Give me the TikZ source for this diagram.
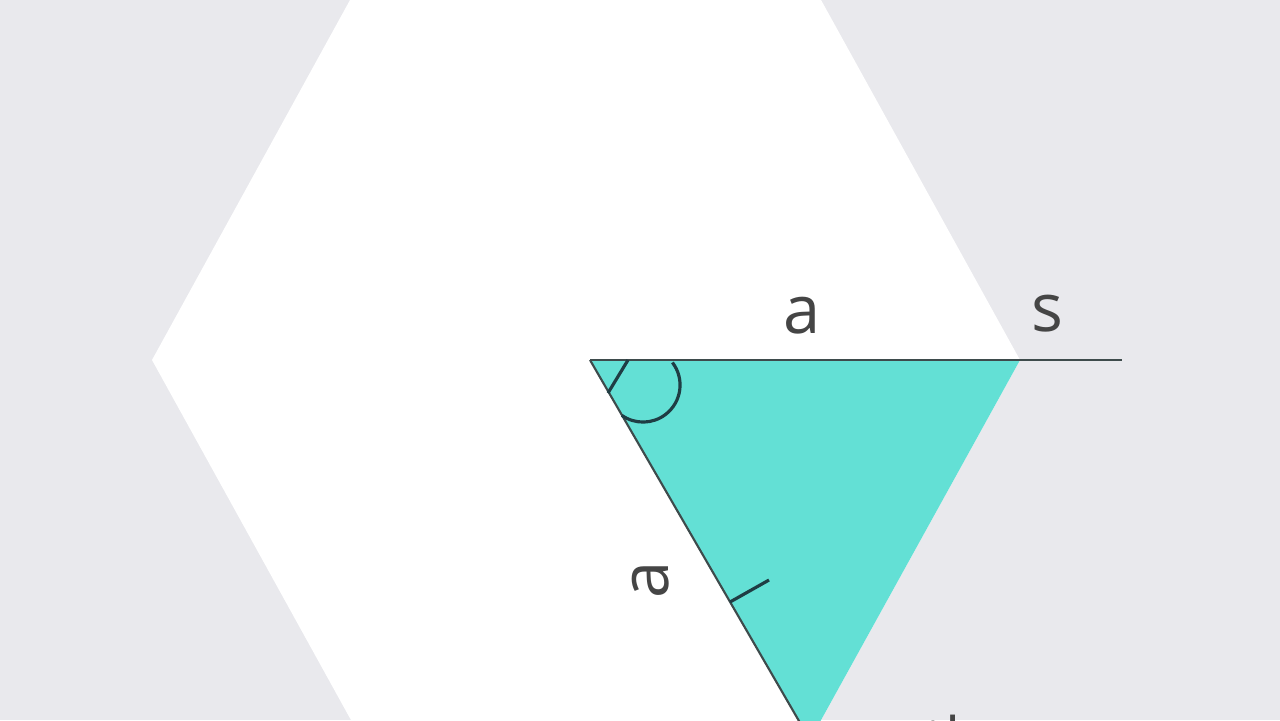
\documentclass[tikz,border=0pt]{standalone}
\usepackage{fontspec}
\setmainfont{Open Sans}
\definecolor{bggray}{HTML}{E9E9ED}
\definecolor{tealfill}{HTML}{63E0D5}
\definecolor{linegray}{HTML}{3E4B4C}
\definecolor{arcdark}{HTML}{1F3D44}
\definecolor{txtgray}{HTML}{454545}
\begin{document}
\begin{tikzpicture}[x=0.01cm,y=0.01cm,
  edge/.style={draw=linegray,line width=0.6pt},
  markline/.style={draw=arcdark,line width=0.9pt},
  lbl/.style={text=txtgray,font=\fontsize{19}{22}\selectfont,inner sep=0pt}]
\useasboundingbox (0,0) rectangle (1280,720);
\clip (0,0) rectangle (1280,720);
\fill[bggray] (0,0) rectangle (1280,720);
% hexagon
\fill[white] (152,360) -- (361,740) -- (810,740) -- (1020,360) -- (810,-20) -- (362,-20) -- cycle;
% triangle
\coordinate (O) at (590,360);
\coordinate (R) at (1020,360);
\coordinate (B) at (810,-20);
\coordinate (E) at (1122,360);
\fill[tealfill] (O) -- (R) -- (B) -- cycle;
\draw[edge] (O) -- (E);
\draw[edge] (O) -- (B);
% angle marks
\coordinate (C1) at (628,360);
\coordinate (C2) at (608,327);
\draw[markline] (C1) -- (C2);
\coordinate (A0) at (672.4,357.5);
\draw[markline] (A0) arc[start angle=37.5,end angle=-125,radius=0.37cm];
% tick
\coordinate (T1) at (730,118);
\coordinate (T2) at (769,140);
\draw[markline] (T1) -- (T2);
% labels
\node[lbl] (la) at (802,404) {a};
\node[lbl] (ls) at (1047,406) {s};
\node[lbl,rotate=90] (lb) at (651,140) {a};
\node[lbl,anchor=base west,font=\fontsize{17}{20}\selectfont] (lth) at (924,-40) {th};
\end{tikzpicture}
\end{document}
